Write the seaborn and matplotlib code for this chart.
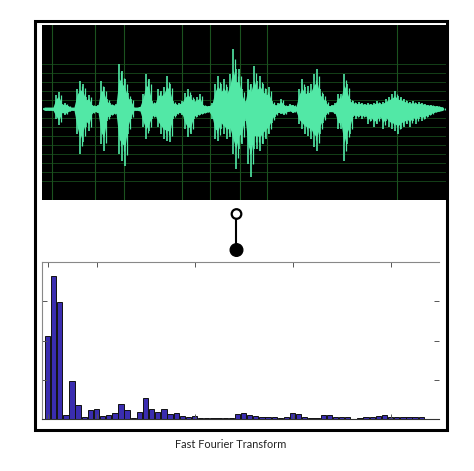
import numpy as np
import pandas as pd
import matplotlib
matplotlib.use("Agg")
import matplotlib.pyplot as plt
import seaborn as sns
from matplotlib.patches import Rectangle, Circle
from matplotlib.lines import Line2D

# ---------------- data ----------------
# waveform envelope (pixels above / below the baseline), one sample every ~3 px
wave_up = [1, 1, 1, 1, 14, 17, 5, 6, 3, 1, 1, 20, 28, 25, 12, 14, 4, 3, 4, 28,
           22, 10, 6, 4, 5, 45, 38, 30, 16, 10, 1, 1, 2, 15, 35, 30, 8, 6, 20, 18,
           22, 33, 25, 8, 5, 6, 8, 16, 20, 14, 10, 12, 15, 4, 3, 3, 6, 25, 33, 25,
           30, 22, 35, 60, 40, 40, 20, 8, 30, 25, 43, 28, 33, 25, 20, 22, 8, 4, 6, 10,
           4, 3, 5, 4, 2, 20, 30, 22, 23, 25, 35, 40, 20, 15, 8, 3, 4, 6, 15, 15,
           35, 25, 10, 8, 6, 7, 6, 5, 6, 5, 6, 8, 6, 7, 10, 12, 15, 18, 13, 12,
           10, 8, 7, 8, 6, 7, 6, 5, 4, 4, 3, 3, 2, 1]
wave_down = [1, 1, 1, 1, 10, 16, 4, 6, 3, 1, 1, 25, 45, 33, 18, 22, 5, 3, 4, 35,
             42, 12, 8, 6, 5, 45, 52, 57, 25, 10, 1, 1, 2, 18, 30, 22, 10, 8, 18, 25,
             30, 32, 33, 10, 7, 4, 6, 20, 28, 25, 10, 8, 6, 5, 4, 3, 10, 30, 32, 20,
             25, 30, 28, 45, 60, 40, 35, 12, 55, 68, 40, 40, 42, 35, 30, 25, 14, 8, 4, 5,
             6, 3, 2, 4, 2, 15, 20, 25, 27, 30, 38, 42, 25, 14, 6, 3, 3, 5, 20, 20,
             52, 35, 25, 8, 10, 8, 10, 8, 15, 12, 18, 15, 10, 20, 12, 18, 20, 22, 25, 20,
             18, 15, 18, 12, 15, 10, 12, 10, 8, 6, 4, 3, 2, 1]
wave_hgrid = [45, 36, 27, 18, 9, -9, -18, -27, -36, -45, -54, -63, -72]
wave_vgrid = [2.7, 17, 26.7, 46, 55.3, 65.3, 74.3, 117.7]

# FFT magnitude spectrum (62 bins)
fft_mag = [2.11, 3.65, 2.97, 0.11, 0.98, 0.36, 0.05, 0.22, 0.26, 0.07,
           0.11, 0.15, 0.39, 0.24, 0.03, 0.19, 0.53, 0.25, 0.19, 0.25,
           0.14, 0.15, 0.08, 0.04, 0.08, 0.02, 0.03, 0.03, 0.03, 0.02,
           0.02, 0.13, 0.15, 0.11, 0.07, 0.05, 0.04, 0.04, 0.02, 0.06,
           0.15, 0.13, 0.04, 0.02, 0.02, 0.09, 0.09, 0.04, 0.04, 0.04,
           0.0, 0.02, 0.04, 0.04, 0.07, 0.11, 0.04, 0.04, 0.04, 0.04,
           0.04, 0.04]
fft_xticks = [0, 8, 24, 40, 56]
fft_yticks = [1, 2, 3]
caption = "Fast Fourier Transform"

# ---------------- figure ----------------
W, H = 474, 471
fig = plt.figure(figsize=(W / 100, H / 100), dpi=100)
fig.patch.set_facecolor("white")

def px_axes(x0, y0, x1, y1, **kw):
    return fig.add_axes([x0 / W, 1 - y1 / H, (x1 - x0) / W, (y1 - y0) / H], **kw)

# ---- waveform panel ----
MINT = "#52e8a6"
axw = px_axes(42, 25, 446, 200)
axw.set_facecolor("black")
n = len(wave_up)
t = np.arange(n)
up = np.array(wave_up, dtype=float)
dn = -np.array(wave_down, dtype=float)
for g in wave_hgrid:
    axw.axhline(g, color="#143f18", lw=0.7, zorder=0.5)
for g in wave_vgrid:
    axw.axvline(g, color="#1b521f", lw=0.8, zorder=0.5)
# dense core of each burst
axw.fill_between(t, 0.65 * dn - 1, 0.65 * up + 1, color=MINT, lw=0, zorder=2)
# individual spikes reaching the envelope
axw.vlines(t, dn, up, color=MINT, lw=1.2, zorder=3)
axw.vlines(t + 0.5, 0.82 * dn, 0.82 * up, color=MINT, lw=0.9, zorder=3)
wdf = pd.DataFrame({"t": t, "a": np.zeros(n)})
sns.lineplot(data=wdf, x="t", y="a", color=MINT, lw=1.0, ax=axw, zorder=3)
axw.set_xlim(-0.67, 134)
axw.set_ylim(-91.3, 83.7)
axw.set_xticks([]); axw.set_yticks([])
axw.set_xlabel(""); axw.set_ylabel("")
for s in axw.spines.values():
    s.set_visible(False)

# ---- FFT panel ----
axf = px_axes(42, 262, 439, 419)
axf.set_facecolor("white")
fdf = pd.DataFrame({"bin": np.arange(len(fft_mag)), "mag": fft_mag})
sns.barplot(data=fdf, x="bin", y="mag", ax=axf, color="#3a2db0",
            saturation=1, width=0.87, edgecolor="#111111", linewidth=0.7)
axf.set_xlim(-0.9, 63.9)
axf.set_ylim(0, 4)
axf.set_xticks(fft_xticks)
axf.set_yticks(fft_yticks)
axf.tick_params(axis="both", direction="in", length=3.5, width=0.7,
                colors="#555555", labelbottom=False, labelleft=False,
                top=True, right=True, bottom=True, left=True)
axf.set_xlabel(""); axf.set_ylabel("")
axf.spines["top"].set_color("#888888")
axf.spines["left"].set_color("#888888")
axf.spines["bottom"].set_color("#333333")
axf.spines["right"].set_visible(False)
for s in ["top", "left", "bottom"]:
    axf.spines[s].set_linewidth(0.8)

# ---- overlay: frame, connector, caption ----
axo = fig.add_axes([0, 0, 1, 1], zorder=10)
axo.set_xlim(0, W); axo.set_ylim(H, 0)
axo.axis("off")
axo.patch.set_alpha(0)
axo.add_patch(Rectangle((35, 20.5), 412, 409, fill=False, ec="black", lw=2.2))
axo.add_line(Line2D([236.5, 236.5], [219, 246], color="black", lw=1.5))
axo.add_patch(Circle((236.5, 214), 4.8, fc="white", ec="black", lw=1.6))
axo.add_patch(Circle((236.5, 250), 6.3, fc="black", ec="black", lw=1))
axo.text(231, 445, caption, ha="center", va="center", fontsize=7.9,
         family=["Lato", "DejaVu Sans"], color="#222222")

fig.savefig("out.png", dpi=100, facecolor="white")
